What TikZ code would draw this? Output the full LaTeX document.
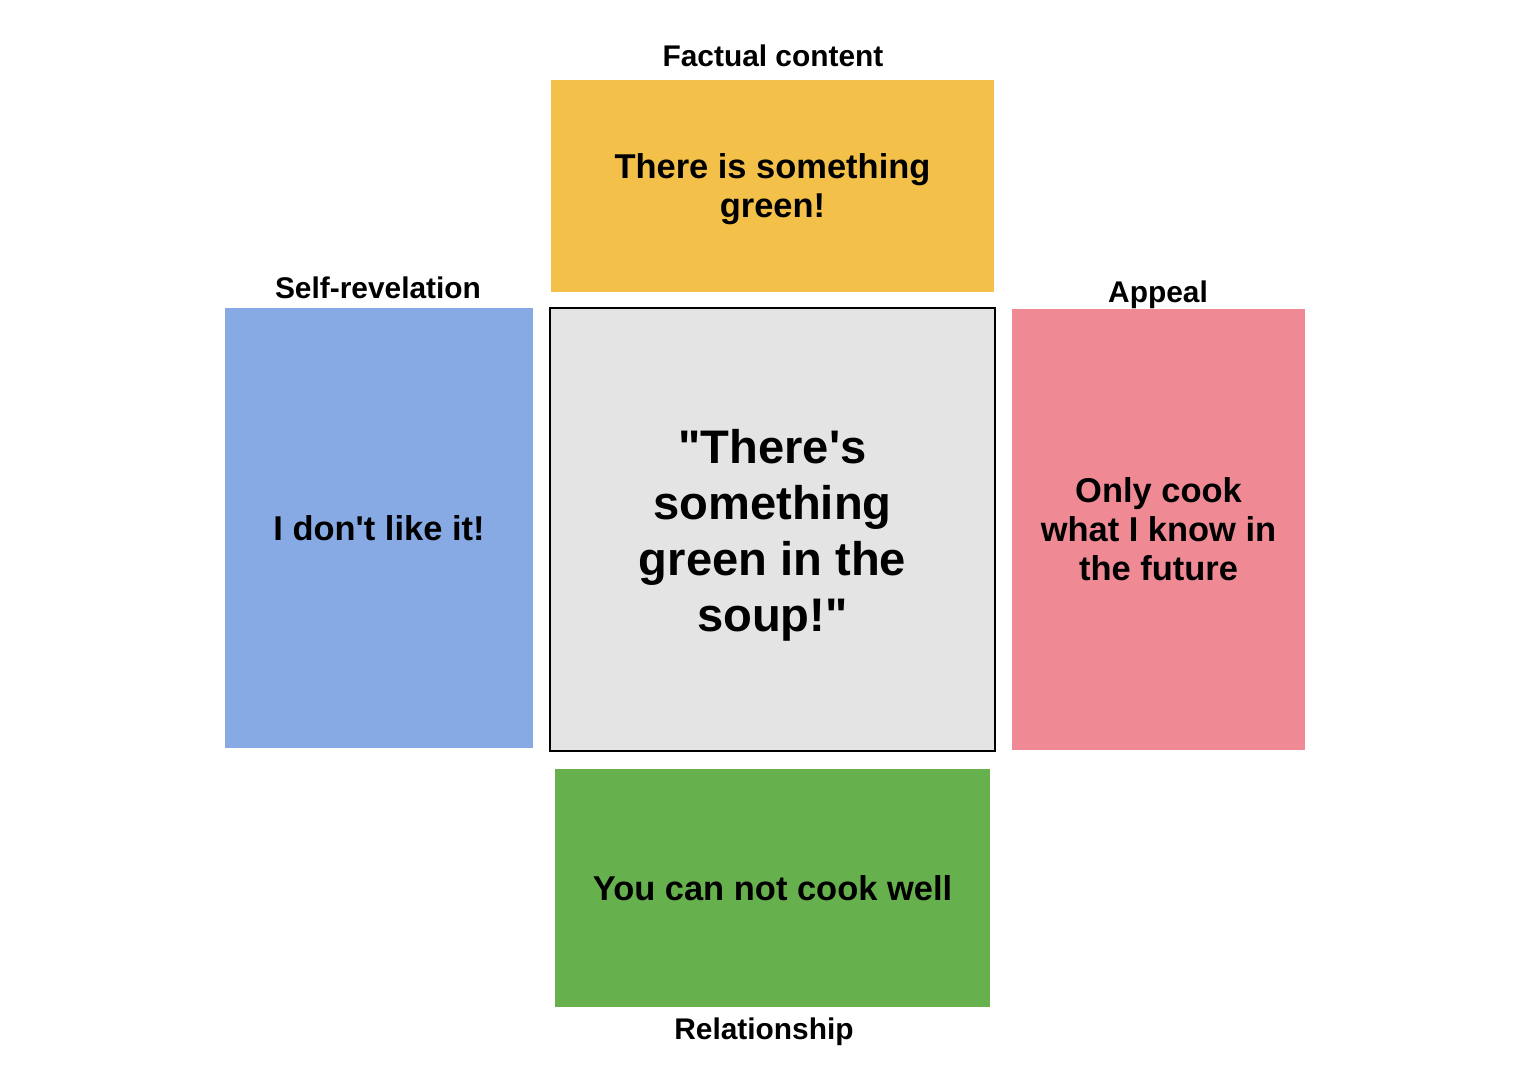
\documentclass[tikz,border=0pt]{standalone}
\usepackage{fontspec}
\setmainfont{Liberation Sans}[Ligatures=TeXOff]
\usepackage{tikz}

\definecolor{factual}{HTML}{F3C04A}
\definecolor{selfrev}{HTML}{87AAE5}
\definecolor{appeal}{HTML}{EF8A95}
\definecolor{relation}{HTML}{67B04E}
\definecolor{message}{HTML}{E4E4E4}

\begin{document}
\begin{tikzpicture}[x=0.01cm, y=-0.01cm,
    side/.style={rectangle, inner sep=0pt, align=center, font=\fontsize{9.8}{11.1}\selectfont\bfseries},
    caption/.style={inner sep=0pt, font=\fontsize{8.5}{10}\selectfont\bfseries}]
    \useasboundingbox (0,0) rectangle (1536,1075);

    % Draw the message in the middle
    \node[rectangle, draw=black, line width=0.6pt, fill=message, minimum width=4.44cm, minimum height=4.42cm,
          align=center, font=\fontsize{13.4}{15.9}\selectfont\bfseries] (soup) at (772.5,529.5)
          {\rule{0pt}{13pt}"There's\\something\\green in the\\soup!"};

    % Draw the four sides
    \node[side, fill=factual, minimum width=4.43cm, minimum height=2.12cm] (fact) at (772.5,186)
          {\rule{0pt}{8.8pt}There is something\\green!};
    \node[side, fill=selfrev, minimum width=3.08cm, minimum height=4.40cm] (self) at (379,528)
          {I don't like it!};
    \node[side, fill=appeal, minimum width=2.93cm, minimum height=4.41cm] (appeal) at (1158.5,529.5)
          {Only cook\\what I know in\\the future};
    \node[side, fill=relation, minimum width=4.35cm, minimum height=2.38cm] (relation) at (772.5,888)
          {You can not cook well};

    % Side names
    \node[caption] at (773,56) {Factual content};
    \node[caption] at (378,288) {Self-revelation};
    \node[caption] at (1158,295) {Appeal};
    \node[caption] at (764,1032) {Relationship};

\end{tikzpicture}
\end{document}
